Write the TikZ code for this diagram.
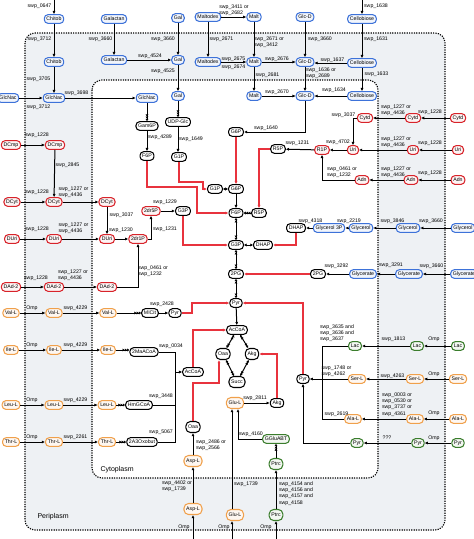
\documentclass[tikz,border=0pt]{standalone}
\usepackage{fontspec}
\setmainfont{Liberation Sans}
\usetikzlibrary{arrows.meta,calc}
\definecolor{nblue}{HTML}{3D72D9}
\definecolor{nred}{HTML}{D8232A}
\definecolor{norange}{HTML}{F0A04B}
\definecolor{ngreen}{HTML}{3A7D2C}
\definecolor{rline}{HTML}{E8333D}
\definecolor{peri}{HTML}{EEF1F4}
\newcommand\fs{\fontsize{5.2}{6.2}\selectfont}
\newcommand\mylab[3]{\node[lab] (#1) at (#2) {#3};}
\begin{document}
\begin{tikzpicture}[x=1pt,y=-1pt,
 nd/.style={draw, rounded corners=3.6pt, line width=1.05pt, minimum height=8.6pt, inner xsep=2.2pt, inner ysep=0.6pt, font=\fs, text=black},
 bl/.style={nd, draw=nblue, fill=nblue!7},
 rd/.style={nd, draw=nred, fill=nred!5},
 og/.style={nd, draw=norange, fill=norange!8},
 gr/.style={nd, draw=ngreen, fill=ngreen!6},
 bk/.style={nd, draw=black, fill=white},
 tall/.style={minimum height=11pt, rounded corners=4.5pt},
 lab/.style={font=\fs, inner sep=0.3pt, align=left},
 ar/.style={line width=1pt, -{Latex[length=3.2pt,width=3pt]}},
 ln/.style={line width=1pt},
 rr/.style={ar, draw=rline, line width=1.2pt},
 mar/.style={line width=1pt, -{Latex[length=2.3pt,width=3.2pt] Latex[length=2.3pt,width=3.2pt] Latex[length=2.3pt,width=3.2pt]}},
 rev/.style={line width=1pt, {Latex[length=2.3pt,width=3.2pt] Latex[length=2.3pt,width=3.2pt]}-{Latex[length=2.3pt,width=3.2pt] Latex[length=2.3pt,width=3.2pt]}},
 rev1/.style={line width=1pt, {Latex[length=2.6pt,width=3.2pt]}-{Latex[length=2.6pt,width=3.2pt]}},
]
\useasboundingbox (0,0) rectangle (474,539);
% compartments
\draw[fill=peri, line width=1.1pt, dash pattern=on 1.2pt off 1.2pt, rounded corners=10pt] (25,33) rectangle (445,530);
\draw[fill=white, line width=1.1pt, dash pattern=on 1.2pt off 1.2pt, rounded corners=10pt] (92,80) rectangle (378,478);
\node[font=\fontsize{7}{8}\selectfont, anchor=west] (cytlab) at (97,470) {Cytoplasm};
\node[font=\fontsize{7}{8}\selectfont, anchor=west] (perlab) at (34,517) {Periplasm};

% ---------------- nodes: carbohydrates
\node[bl] (oChitob) at (54,19) {Chitob};
\node[bl] (oGalactan) at (114,19) {Galactan};
\node[bl] (oGal) at (178,18) {Gal};
\node[bl] (oMaltodex) at (208,17) {Maltodex};
\node[bl] (oMalt) at (254,17) {Malt};
\node[bl] (oGlc) at (305,17) {Glc-D};
\node[bl] (oCello) at (362,19) {Cellobiose};
\node[bl] (pChitob) at (54,62) {Chitob};
\node[bl] (pGalactan) at (114,60) {Galactan};
\node[bl] (pGal) at (178,60) {Gal};
\node[bl] (pMaltodex) at (208,62) {Maltodex};
\node[bl] (pMalt) at (254,62) {Malt};
\node[bl] (pGlc) at (305,62) {Glc-D};
\node[bl] (pCello) at (362,63) {Cellobiose};
\node[bl] (oGlcNac) at (8,98) {GlcNac};
\node[bl] (pGlcNac) at (54,98) {GlcNac};
\node[bl] (cGlcNac) at (147,98) {GlcNac};
\node[bl] (cGal) at (178,96) {Gal};
\node[bl] (cMalt) at (254,96) {Malt};
\node[bl] (cGlc) at (305,96) {Glc-D};
\node[bl] (cCello) at (362,96) {Cellobiose};
\node[bk] (Gam6P) at (147,126) {Gam6P};
\node[bk] (UDPGlc) at (178,122) {UDP-Glc};
\node[bk] (F6Pa) at (147,156) {F6P};
\node[bk] (G1Pa) at (179,157) {G1P};
\node[bk] (G6Pa) at (236,132) {G6P};
% nucleosides right
\node[rd] (cCytd) at (365,118) {Cytd};
\node[rd] (pCytd) at (413,118) {Cytd};
\node[rd] (oCytd) at (458,118) {Cytd};
\node[rd] (cUri) at (353,150) {Uri};
\node[rd] (pUri) at (413,150) {Uri};
\node[rd] (oUri) at (458,150) {Uri};
\node[rd] (cAdn) at (362,180) {Adn};
\node[rd] (pAdn) at (411,180) {Adn};
\node[rd] (oAdn) at (458,180) {Adn};
\node[rd] (R1P) at (322,150) {R1P};
\node[bk] (R5Pa) at (278,149) {R5P};
% glycolysis
\node[bk] (G1Pb) at (215,189) {G1P};
\node[bk] (G6Pb) at (236,189) {G6P};
\node[bk] (F6Pb) at (236,213) {F6P};
\node[bk] (R5Pb) at (259,213) {R5P};
\node[bk] (G3Pb) at (236,245) {G3P};
\node[bk] (DHAPb) at (263,245) {DHAP};
\node[bk] (DHAPa) at (296,228) {DHAP};
\node[bl] (Glyc3P) at (329,228) {Glycerol 3P};
\node[bl] (cGlycerol) at (361,228) {Glycerol};
\node[bl] (pGlycerol) at (408,228) {Glycerol};
\node[bl] (oGlycerol) at (463,228) {Glycerol};
\node[bk] (PG2) at (236,274) {2PG};
\node[bk] (PG2r) at (318,274) {2PG};
\node[bl] (cGlycerate) at (363,274) {Glycerate};
\node[bl] (pGlycerate) at (409,274) {Glycerate};
\node[bl] (oGlycerate) at (464,274) {Glycerate};
\node[bk] (Pyr) at (236,303) {Pyr};
\node[bk] (AcCoA) at (237,330) {AcCoA};
\node[bk,tall] (Oaa) at (223,354) {Oaa};
\node[bk,tall] (Akg) at (252,354) {Akg};
\node[bk,tall] (Succ) at (237,382) {Succ};
% nucleotides left
\node[rd] (oDCmp) at (11,145) {DCmp};
\node[rd] (pDCmp) at (55,145) {DCmp};
\node[rd] (oDCyt) at (12,202) {DCyt};
\node[rd] (pDCyt) at (54,202) {DCyt};
\node[rd] (cDCyt) at (107,202) {DCyt};
\node[rd] (oDUri) at (12,239) {DUri};
\node[rd] (pDUri) at (54,239) {DUri};
\node[rd] (cDUri) at (107,239) {DUri};
\node[rd] (dr1P) at (138,239) {2dr1P};
\node[rd] (dr5P) at (151,211) {2dr5P};
\node[bk] (G3Pl) at (183,211) {G3P};
\node[rd] (oDAd) at (11,287) {DAd-2};
\node[rd] (pDAd) at (54,287) {DAd-2};
\node[rd] (cDAd) at (107,287) {DAd-2};
% amino acids left
\node[og] (oVal) at (11,313) {Val-L};
\node[og] (pVal) at (54,313) {Val-L};
\node[og] (cVal) at (108,313) {Val-L};
\node[og] (oIle) at (11,350) {Ile-L};
\node[og] (pIle) at (54,350) {Ile-L};
\node[og] (cIle) at (108,350) {Ile-L};
\node[og] (oLeu) at (11,405) {Leu-L};
\node[og] (pLeu) at (54,405) {Leu-L};
\node[og] (cLeu) at (107,405) {Leu-L};
\node[og] (oThr) at (11,442) {Thr-L};
\node[og] (pThr) at (54,442) {Thr-L};
\node[og] (cThr) at (107,442) {Thr-L};
\node[bk] (MICit) at (150,313) {MICit};
\node[bk] (Pyrl) at (175,313) {Pyr};
\node[bk] (MaACoA) at (144,352) {2MaACoA};
\node[bk] (HmGCoA) at (139,405) {HmGCoA};
\node[bk] (AOxobut) at (142,442) {2A3Oxobut};
\node[bk] (AcCoAl) at (193,372) {AcCoA};
\node[bk,tall] (Oaal) at (193,427) {Oaa};
\node[og,tall] (cAsp) at (193,461) {Asp-L};
\node[og,tall] (pAsp) at (193,509) {Asp-L};
\node[og,tall] (cGlu) at (235,403) {Glu-L};
\node[og,tall] (pGlu) at (235,515) {Glu-L};
\node[bk] (Akgl) at (277,403) {Akg};
\node[gr] (GGluABT) at (276,439) {GGluABT};
\node[gr,tall] (cPtrc) at (276,464) {Ptrc};
\node[gr,tall] (pPtrc) at (276,515) {Ptrc};
% right amino acids
\node[bk] (Pyrr) at (303,379) {Pyr};
\node[gr] (cLac) at (355,346) {Lac};
\node[gr] (pLac) at (417,346) {Lac};
\node[gr] (oLac) at (458,346) {Lac};
\node[og] (cSer) at (357,379) {Ser-L};
\node[og] (pSer) at (415,379) {Ser-L};
\node[og] (oSer) at (458,379) {Ser-L};
\node[og] (cAla) at (353,419) {Ala-L};
\node[og] (pAla) at (415,419) {Ala-L};
\node[og] (oAla) at (458,419) {Ala-L};
\node[gr] (cPyrg) at (357,443) {Pyr};
\node[gr] (pPyrg) at (418,443) {Pyr};
\node[gr] (oPyrg) at (458,443) {Pyr};

% free ends / junctions
\coordinate (topChitob) at (54,0);
\coordinate (topCello) at (362,0);
\coordinate (bAsp) at (193,539);
\coordinate (bGlu) at (232,539);
\coordinate (bPtrc) at (276,539);
\coordinate (jA) at (175,372);
\coordinate (jR) at (322,379);

% ---------------- connectors
\draw[ar] (topChitob) -- (oChitob);
\draw[ar] (topCello) -- (oCello);
\draw[ar] (oChitob) -- (pChitob);
\draw[ar] (oGalactan) -- (pGalactan);
\draw[ar] (oGal) -- (pGal);
\draw[ar] (oMaltodex) -- (pMaltodex);
\draw[ar] (oMaltodex) -- (oMalt);
\draw[ar] (oMalt) -- (pMalt);
\draw[ar] (oGlc) -- (pGlc);
\draw[ar] (oCello) -- (pCello);
\draw[ar] (pGalactan) -- (pGal);
\draw[ar] (pGal) -- (cGal);
\draw[ar] (pMaltodex) -- (pMalt);
\draw[ar] (pMalt) -- (pGlc);
\draw[ar] (pCello.west) -- (pCello.west -| pGlc.east);
\draw[ar] (pGlc) -- (cGlc);
\draw[ar] (pMalt) -- (cMalt);
\draw[ar] (pCello) -- (cCello);
\draw[ar] (cMalt) -- (cGlc);
\draw[ar] (cCello) -- (cGlc);
\draw[ar] (oGlcNac) -- (pGlcNac);
\draw[ar] (pChitob) -- (pGlcNac);
\draw[ar] (pGlcNac) -- (cGlcNac);
\draw[mar] (cGlcNac) -- (Gam6P);
\draw[mar] (cGal) -- (UDPGlc);
\draw[ar] (Gam6P) -- (F6Pa);
\draw[ar] (UDPGlc.south) -- (UDPGlc.south |- G1Pa.north);
\draw[ar] (cGlc.south) |- (G6Pa.east);
% nucleosides right
\draw[ar] (oCytd) -- (pCytd);
\draw[ar] (pCytd) -- (cCytd);
\draw[ar] (cCytd.west) -| (cUri.north);
\draw[ar] (oUri) -- (pUri);
\draw[ar] (pUri) -- (cUri);
\draw[ar] (cUri) -- (R1P);
\draw[ar] (oAdn) -- (pAdn);
\draw[ar] (pAdn) -- (cAdn);
\draw[ar] (cAdn.west) -| (R1P.south);
\draw[ar] (R1P) -- (R5Pa);
\draw[rr] (R5Pa.west) -| (R5Pb.north);
\draw[rr] (G6Pa.south) -- (G6Pb.north);
% glycerol, glycerate
\draw[ar] (oGlycerol) -- (pGlycerol);
\draw[ar] (pGlycerol) -- (cGlycerol);
\draw[ar] (cGlycerol) -- (Glyc3P);
\draw[ar] (Glyc3P) -- (DHAPa);
\draw[rr] (DHAPa.south) |- (DHAPb.east);
\draw[ar] (oGlycerate) -- (pGlycerate);
\draw[ar] (pGlycerate) -- (cGlycerate);
\draw[ar] (cGlycerate) -- (PG2r);
\draw[rr] (PG2r) -- (PG2);
% central
\draw[rev1] (G1Pb) -- (G6Pb);
\draw[ar] (G6Pb) -- (F6Pb);
\draw[mar] (R5Pb) -- (F6Pb);
\draw[rev] (F6Pb) -- (G3Pb);
\draw[rev1] (DHAPb) -- (G3Pb);
\draw[rev] (G3Pb) -- (PG2);
\draw[rev] (PG2) -- (Pyr);
\draw[ar] (Pyr) -- (AcCoA);
\draw[rev] (AcCoA) -- (Oaa);
\draw[rev] (AcCoA) -- (Akg);
\draw[rev] (Oaa) -- (Succ);
\draw[rev] (Akg) -- (Succ);
\draw[rr] (G1Pa.south) -- (179,182) -- (203,182) |- (G1Pb.west);
\draw[rr] (F6Pa.south) -- (147,187) -- (197,187) |- (F6Pb.west);
% nucleotides left
\draw[ar] (oDCmp) -- (pDCmp);
\draw[ar] (pDCmp) -- (pDCyt);
\draw[ar] (oDCyt) -- (pDCyt);
\draw[ar] (pDCyt) -- (cDCyt);
\draw[ar] (cDCyt) -- (cDUri);
\draw[ar] (oDUri) -- (pDUri);
\draw[ar] (pDUri) -- (cDUri);
\draw[ar] (cDUri) -- (dr1P);
\draw[ar] (dr1P.east) -| (dr5P.south);
\draw[ar] (dr5P) -- (G3Pl);
\draw[rr] (G3Pl.south) |- (G3Pb.west);
\draw[ar] (oDAd) -- (pDAd);
\draw[ar] (pDAd) -- (cDAd);
\draw[ar] (cDAd.east) -| (dr1P.south);
% amino acids left
\draw[ar] (oVal) -- (pVal);
\draw[ar] (pVal) -- (cVal);
\draw[mar] (cVal) -- (MICit);
\draw[ar] (MICit) -- (Pyrl);
\draw[rr] (Pyrl.east) -- (192,313) -- (192,303) -- (Pyr.west);
\draw[ar] (oIle) -- (pIle);
\draw[ar] (pIle) -- (cIle);
\draw[mar] (cIle) -- (cIle -| MaACoA.west);
\draw[ar] (oLeu) -- (pLeu);
\draw[ar] (pLeu) -- (cLeu);
\draw[mar] (cLeu) -- (HmGCoA);
\draw[ar] (oThr) -- (pThr);
\draw[ar] (pThr) -- (cThr);
\draw[mar] (cThr) -- (AOxobut);
\draw[ln] (MaACoA.east) -| (jA);
\draw[ln] (HmGCoA.east) -| (jA);
\draw[ln] (AOxobut.east) -| (jA);
\draw[ar] (jA) -- (AcCoAl.west);
\draw[rr] (AcCoAl.north) |- (AcCoA.west);
\draw[rr] (Oaal.north) -- (193,383) -- (219,383) -- (Oaa.south -| 219,0);
\draw[rr] (Akgl.north) |- (Akg.east);
\draw[ar] (cGlu) -- (Akgl);
\draw[ar] (GGluABT.west) -| ([xshift=3pt]cGlu.south);
\draw[mar] (cPtrc) -- (GGluABT);
\draw[ar] (pPtrc) -- (cPtrc);
\draw[ar] ([xshift=-3pt]pGlu.north) -- ([xshift=-3pt]cGlu.south);
\draw[ar] (pAsp) -- (cAsp);
\draw[ar] (cAsp) -- (Oaal);
\draw[ar] (bAsp) -- (pAsp);
\draw[ar] (bGlu) -- (bGlu |- pGlu.south);
\draw[ar] (bPtrc) -- (pPtrc);
% right amino acids
\draw[ar] (oLac) -- (pLac);
\draw[ar] (pLac) -- (cLac);
\draw[ln] (cLac.west) -| (jR);
\draw[ar] (oSer) -- (pSer);
\draw[ar] (pSer) -- (cSer);
\draw[ar] (cSer) -- (Pyrr);
\draw[ar] (oAla) -- (pAla);
\draw[ar] (pAla) -- (cAla);
\draw[ln] (cAla.west) -| (jR);
\draw[ar] (oPyrg) -- (pPyrg);
\draw[ar] (pPyrg) -- (cPyrg);
\draw[ar] (cPyrg.west) -| (Pyrr.south);
\draw[rr] (Pyrr.north) |- (Pyr.east);

% ---------------- labels
\mylab{l1}{39.5,6.5}{swp\_0647}
\mylab{l2}{376,6}{swp\_1638}
\mylab{l3}{39.5,39}{swp\_3712}
\mylab{l4}{100.5,39}{swp\_3660}
\mylab{l5}{163,39}{swp\_3660}
\mylab{l6}{221.5,39}{swp\_2671}
\mylab{l7}{234,10.5}{swp\_3411 or\\swp\_2682}
\mylab{l8}{269,42}{swp\_2671 or\\swp\_3412}
\mylab{l9}{320,39}{swp\_3660}
\mylab{l10}{376,39}{swp\_1631}
\mylab{l11}{150,56}{swp\_4524}
\mylab{l12}{163,71}{swp\_4525}
\mylab{l13}{233.5,59}{swp\_2675}
\mylab{l14}{233.5,67}{swp\_2674}
\mylab{l15}{277,59.5}{swp\_2676}
\mylab{l16}{332.5,60}{swp\_1637}
\mylab{l17}{321,73.5}{swp\_1636 or\\swp\_2689}
\mylab{l18}{267.5,75}{swp\_2681}
\mylab{l19}{376.5,74}{swp\_1633}
\mylab{l20}{277,92}{swp\_2670}
\mylab{l21}{334,90.5}{swp\_1634}
\mylab{l22}{38.5,107}{swp\_3712}
\mylab{l23}{38.5,79}{swp\_3705}
\mylab{l24}{76.5,93}{swp\_3698}
\mylab{l25}{160,137}{swp\_4289}
\mylab{l26}{191,139}{swp\_1649}
\mylab{l27}{266,128}{swp\_1640}
\mylab{l28}{430,112}{swp\_1228}
\mylab{l29}{396,110}{swp\_1227 or\\swp\_4436}
\mylab{l30}{343.5,115}{swp\_3037}
\mylab{l31}{338,142}{swp\_4702}
\mylab{l32}{396,142}{swp\_1227 or\\swp\_4436}
\mylab{l33}{430,143}{swp\_1228}
\mylab{l34}{342,172}{swp\_0461 or\\swp\_1232}
\mylab{l35}{396,172}{swp\_1227 or\\swp\_4436}
\mylab{l36}{430,173}{swp\_1228}
\mylab{l37}{297.5,143}{swp\_1231}
\mylab{l38}{310.5,221}{swp\_4318}
\mylab{l39}{349,221}{swp\_2219}
\mylab{l40}{392.5,221}{swp\_3846}
\mylab{l41}{431,221}{swp\_3660}
\mylab{l42}{336.5,266}{swp\_3292}
\mylab{l43}{391,265}{swp\_3291}
\mylab{l44}{431.5,266}{swp\_3660}
\mylab{l45}{337,333}{swp\_3635 and\\swp\_3636 and\\swp\_3637}
\mylab{l46}{393.5,339}{swp\_1813}
\mylab{l47}{434,339}{Omp}
\mylab{l48}{336.5,371}{swp\_1748 or\\swp\_4262}
\mylab{l49}{392.5,376}{swp\_4263}
\mylab{l50}{434,374}{Omp}
\mylab{l51}{397,404.5}{swp\_0003 or\\swp\_0530 or\\swp\_3737 or\\swp\_4361}
\mylab{l52}{434,413}{Omp}
\mylab{l53}{336.5,414}{swp\_2619}
\mylab{l54}{387,438}{???}
\mylab{l55}{434,438}{Omp}
\mylab{l56}{37,135}{swp\_1228}
\mylab{l57}{67.5,165}{swp\_2845}
\mylab{l58}{37,192}{swp\_1228}
\mylab{l59}{73.5,192}{swp\_1227 or\\swp\_4436}
\mylab{l60}{121.5,215}{swp\_3037}
\mylab{l61}{37,229}{swp\_1228}
\mylab{l62}{73.5,228}{swp\_1227 or\\swp\_4436}
\mylab{l63}{121,230}{swp\_1230}
\mylab{l64}{165,229}{swp\_1231}
\mylab{l65}{165,202}{swp\_1229}
\mylab{l66}{153,271}{swp\_0461 or\\swp\_1232}
\mylab{l67}{36,278}{swp\_1228}
\mylab{l68}{73,275.5}{swp\_1227 or\\swp\_4436}
\mylab{l69}{32,308}{Omp}
\mylab{l70}{75.5,308}{swp\_4229}
\mylab{l71}{162,304}{swp\_2428}
\mylab{l72}{32,345}{Omp}
\mylab{l73}{75.5,345}{swp\_4229}
\mylab{l74}{171,346}{swp\_0034}
\mylab{l75}{32,400}{Omp}
\mylab{l76}{75.5,400}{swp\_4229}
\mylab{l77}{32,437}{Omp}
\mylab{l78}{75.5,437}{swp\_2261}
\mylab{l79}{161,396}{swp\_3448}
\mylab{l80}{161,432}{swp\_5067}
\mylab{l81}{211,445}{swp\_2486 or\\swp\_2566}
\mylab{l82}{255,398}{swp\_2811}
\mylab{l83}{251,434}{swp\_4160}
\mylab{l84}{177,486.5}{swp\_4402 or\\swp\_1739}
\mylab{l85}{246,484}{swp\_1739}
\mylab{l86}{296,493.5}{swp\_4154 and\\swp\_4156 and\\swp\_4157 and\\swp\_4158}
\mylab{l87}{184,527}{Omp}
\mylab{l88}{224,527}{Omp}
\mylab{l89}{266,527}{Omp}
\end{tikzpicture}
\end{document}
